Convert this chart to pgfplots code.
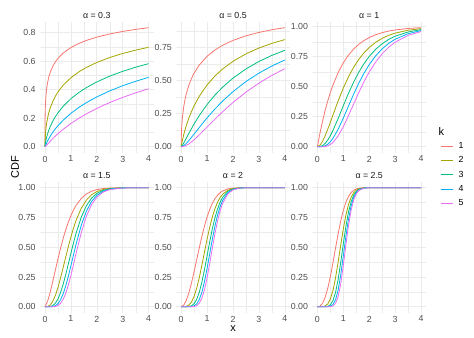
\documentclass[border=0pt]{standalone}
\usepackage{pgfplots}
\pgfplotsset{compat=1.18}
\usepackage{pgfplotstable}
\usepackage{fontspec}
\setmainfont{Liberation Sans}
\definecolor{c1}{HTML}{F8766D}
\definecolor{c2}{HTML}{A3A500}
\definecolor{c3}{HTML}{00BF7D}
\definecolor{c4}{HTML}{00B0F6}
\definecolor{c5}{HTML}{E76BF3}
\definecolor{gridc}{HTML}{EBEBEB}
\definecolor{tickc}{HTML}{4D4D4D}
\definecolor{stripc}{HTML}{1A1A1A}

% alpha = 0.3
\pgfplotstableread{
x k1 k2 k3 k4 k5
0 0 0 0 0 0
0.0005 0.1146 0.01313 0.001505 0.000172 0.00002
0.002 0.1683 0.02832 0.004767 0.000802 0.000135
0.005 0.2156 0.04648 0.01002 0.00216 0.000466
0.01 0.2584 0.06677 0.01725 0.004458 0.001152
0.02 0.3078 0.09474 0.02916 0.008976 0.002763
0.04 0.3643 0.1327 0.04835 0.01761 0.006417
0.07 0.4148 0.1721 0.07137 0.0296 0.01228
0.1 0.4492 0.2018 0.09064 0.04072 0.01829
0.15 0.4901 0.2402 0.1177 0.0577 0.02828
0.2 0.5201 0.2705 0.1407 0.07317 0.03806
0.3 0.5636 0.3176 0.179 0.1009 0.05687
0.4 0.595 0.354 0.2106 0.1253 0.07459
0.5 0.6196 0.3839 0.2379 0.1474 0.09131
0.7 0.6567 0.4313 0.2832 0.186 0.1221
1 0.6958 0.4841 0.3369 0.2344 0.1631
1.3 0.724 0.5242 0.3795 0.2748 0.1989
1.6 0.7459 0.5564 0.415 0.3095 0.2309
2 0.7689 0.5912 0.4546 0.3495 0.2688
2.5 0.7912 0.626 0.4953 0.3919 0.3101
3 0.8088 0.6542 0.5291 0.4279 0.3461
3.5 0.8232 0.6777 0.5578 0.4592 0.378
4 0.8353 0.6977 0.5828 0.4868 0.4067
}\tA

% alpha = 0.5
\pgfplotstableread{
x k1 k2 k3 k4 k5
0 0 0 0 0 0
0.001 0.03572 0.001276 0.0000456 0.0000016 0
0.005 0.0781 0.0061 0.000476 0.0000372 0.0000029
0.01 0.10863 0.0118 0.001282 0.000139 0.0000151
0.02 0.1501 0.02253 0.003382 0.000508 0.0000762
0.05 0.22673 0.05141 0.01166 0.002643 0.000599
0.1 0.30486 0.09294 0.02833 0.008638 0.002633
0.15 0.35942 0.12918 0.04643 0.01669 0.005998
0.2 0.4021 0.16168 0.06501 0.02614 0.01051
0.3 0.46733 0.2184 0.10206 0.0477 0.02229
0.4 0.5168 0.26708 0.13803 0.07133 0.03686
0.5 0.55656 0.30976 0.1724 0.09595 0.0534
0.7 0.61792 0.38182 0.23594 0.14579 0.09009
1 0.68336 0.46698 0.31912 0.21807 0.14902
1.3 0.73049 0.53362 0.38981 0.28475 0.20801
1.6 0.76653 0.58757 0.45039 0.34524 0.26464
2 0.80332 0.64532 0.5184 0.41644 0.33453
2.5 0.83769 0.70172 0.58782 0.49241 0.41249
3 0.86358 0.74577 0.64403 0.55617 0.4803
3.5 0.88373 0.78098 0.69018 0.60993 0.53902
4 0.89974 0.80953 0.72837 0.65534 0.58964
}\tB

% alpha = 1
\pgfplotstableread{
x k1 k2 k3 k4 k5
0 0 0 0 0 0
0.1 0.11308 0.012787 0.001446 0.0001635 0.0000185
0.2 0.21337 0.04553 0.009714 0.002073 0.000442
0.3 0.30232 0.0914 0.02763 0.008353 0.002525
0.4 0.38122 0.14533 0.0554 0.02112 0.008052
0.5 0.45119 0.20357 0.09185 0.04144 0.0187
0.6 0.51325 0.26343 0.1352 0.06939 0.03562
0.8 0.61711 0.38082 0.23501 0.14503 0.0895
1.0 0.69881 0.48834 0.34126 0.23847 0.16665
1.2 0.76307 0.58228 0.44432 0.33905 0.25872
1.4 0.81363 0.66199 0.53862 0.43824 0.35657
1.6 0.85339 0.72827 0.6215 0.53038 0.45262
1.8 0.88467 0.78264 0.69238 0.61253 0.54189
2.0 0.90928 0.82679 0.75178 0.68358 0.62157
2.25 0.93279 0.8701 0.81162 0.75707 0.70619
2.5 0.95021 0.9029 0.85795 0.81523 0.77465
2.75 0.96312 0.9276 0.89339 0.86044 0.82871
3.0 0.97268 0.94611 0.92026 0.89512 0.87066
3.5 0.985 0.97023 0.95567 0.94134 0.92722
4.0 0.99177 0.98361 0.97551 0.96749 0.95953
}\tC

% alpha = 1.5
\pgfplotstableread{
x k1 k2 k3 k4 k5
0 0 0 0 0 0
0.1 0.0448 0.00201 0.0000899 0.000004 0.0000002
0.2 0.1216 0.01479 0.001798 0.000219 0.0000266
0.3 0.212 0.04494 0.009528 0.00202 0.000428
0.4 0.307 0.09425 0.02894 0.008883 0.002727
0.5 0.4011 0.16088 0.06453 0.02588 0.01038
0.6 0.4903 0.24039 0.11786 0.05779 0.02833
0.7 0.5722 0.32741 0.18735 0.1072 0.06134
0.8 0.6457 0.41693 0.26921 0.17383 0.11224
0.9 0.71 0.5041 0.35791 0.25412 0.18042
1.0 0.7654 0.58584 0.4484 0.34321 0.26269
1.1 0.8123 0.65983 0.53598 0.43538 0.35366
1.2 0.8513 0.72471 0.61695 0.52521 0.44711
1.4 0.9095 0.82719 0.75233 0.68424 0.62232
1.6 0.9468 0.89643 0.84874 0.80359 0.76084
1.8 0.9699 0.94071 0.91239 0.88493 0.85829
2.0 0.9834 0.96708 0.95103 0.93524 0.91972
2.25 0.9925 0.98506 0.97767 0.97034 0.96306
2.5 0.9968 0.99361 0.99043 0.98726 0.9841
3.0 0.9995 0.999 0.9985 0.998 0.9975
3.5 0.99993 0.99986 0.99979 0.99972 0.99965
4.0 1 1 1 1 1
}\tD

% alpha = 2
\pgfplotstableread{
x k1 k2 k3 k4 k5
0 0 0 0 0 0
0.1 0.0139 0.000193 0.0000027 0 0
0.2 0.0545 0.00297 0.000162 0.0000088 0.0000005
0.3 0.1184 0.01402 0.00166 0.000197 0.0000233
0.4 0.2007 0.04028 0.008084 0.001622 0.000326
0.5 0.2953 0.0872 0.02575 0.007604 0.002246
0.6 0.3959 0.15674 0.06205 0.02457 0.009726
0.7 0.4964 0.24641 0.12232 0.06072 0.03014
0.8 0.5918 0.35023 0.20727 0.12266 0.07259
0.9 0.6783 0.46009 0.31208 0.21168 0.14358
1.0 0.7534 0.56761 0.42764 0.32218 0.24273
1.1 0.8162 0.66618 0.54374 0.4438 0.36223
1.2 0.8668 0.75134 0.65126 0.56451 0.48932
1.3 0.9061 0.82102 0.74393 0.67408 0.61078
1.4 0.9357 0.87553 0.81923 0.76656 0.71727
1.5 0.9571 0.91604 0.87674 0.83913 0.80313
1.6 0.9722 0.94517 0.91889 0.89335 0.86851
1.8 0.9893 0.97871 0.96824 0.95788 0.94763
2.0 0.9963 0.99261 0.98894 0.98528 0.98164
2.25 0.9992 0.9984 0.9976 0.9968 0.996
2.5 0.9998 0.9996 0.9994 0.9992 0.999
3.0 1 1 1 1 1
4.0 1 1 1 1 1
}\tE

% alpha = 2.5
\pgfplotstableread{
x k1 k2 k3 k4 k5
0 0 0 0 0 0
0.1 0.0052 0.000027 0 0 0
0.2 0.0291 0.000847 0.0000246 0 0
0.3 0.0781 0.0061 0.000476 0.0000372 0.0000029
0.4 0.1538 0.02365 0.003638 0.00056 0.0000861
0.5 0.253 0.06401 0.01619 0.004097 0.001037
0.6 0.3688 0.13601 0.05016 0.0185 0.006823
0.7 0.4916 0.24167 0.11881 0.05841 0.02871
0.8 0.6111 0.37344 0.22821 0.13946 0.08522
0.9 0.7186 0.51639 0.37108 0.26666 0.19162
1.0 0.808 0.65286 0.52751 0.42623 0.34439
1.1 0.8768 0.76878 0.67406 0.59102 0.51821
1.2 0.9259 0.85729 0.79377 0.73495 0.68049
1.3 0.9584 0.91853 0.88032 0.8437 0.8086
1.4 0.9782 0.95688 0.93602 0.91561 0.89565
1.5 0.9894 0.97891 0.96853 0.95827 0.94811
1.6 0.9952 0.99042 0.98567 0.98094 0.97623
1.8 0.9992 0.9984 0.9976 0.9968 0.996
2.0 0.9999 0.9998 0.9997 0.9996 0.9995
2.5 1 1 1 1 1
3.0 1 1 1 1 1
4.0 1 1 1 1 1
}\tF

\pgfplotsset{
  panel/.style={
    scale only axis, width=114bp, height=131bp,
    anchor=south west,
    xmin=-0.2, xmax=4.2,
    xtick={0,1,2,3,4}, minor xtick={0.5,1.5,2.5,3.5},
    grid=both,
    major grid style={color=gridc, line width=0.6bp},
    minor grid style={color=gridc, line width=0.3bp},
    axis line style={draw=none},
    major tick length=0pt, minor tick length=0pt,
    tick label style={font=\fontsize{8.8bp}{10bp}\selectfont, text=tickc},
    /pgf/number format/assume math mode=true,
    yticklabel style={inner sep=0pt, xshift=-4bp, /pgf/number format/.cd, fixed, fixed zerofill, precision=2},
    xticklabel style={inner sep=0pt, yshift=-3bp},
    every axis plot/.append style={line width=0.8bp, no marks},
  },
  fullrow/.style={ymin=-0.05, ymax=1.05, ytick={0,0.25,0.5,0.75,1}, minor ytick={0.125,0.375,0.625,0.875}},
}

\begin{document}
\begin{tikzpicture}
\path[use as bounding box] (0,0) rectangle (474bp,338bp);

% row 1
\begin{axis}[panel, at={(39.8bp,185.3bp)},
  ymin=-0.0418, ymax=0.8771, ytick={0,0.2,0.4,0.6,0.8}, minor ytick={0.1,0.3,0.5,0.7},
  yticklabel style={/pgf/number format/precision=1}]
\addplot[c1] table[x=x,y=k1]{\tA};
\addplot[c2] table[x=x,y=k2]{\tA};
\addplot[c3] table[x=x,y=k3]{\tA};
\addplot[c4] table[x=x,y=k4]{\tA};
\addplot[c5] table[x=x,y=k5]{\tA};
\end{axis}

\begin{axis}[panel, at={(176bp,185.3bp)},
  ymin=-0.045, ymax=0.9447, ytick={0,0.25,0.5,0.75}, minor ytick={0.125,0.375,0.625,0.875}]
\addplot[c1] table[x=x,y=k1]{\tB};
\addplot[c2] table[x=x,y=k2]{\tB};
\addplot[c3] table[x=x,y=k3]{\tB};
\addplot[c4] table[x=x,y=k4]{\tB};
\addplot[c5] table[x=x,y=k5]{\tB};
\end{axis}

\begin{axis}[panel, at={(312.2bp,185.3bp)},
  ymin=-0.0496, ymax=1.0414, ytick={0,0.25,0.5,0.75,1}, minor ytick={0.125,0.375,0.625,0.875},
  legend style={at={(1.125,0.105)}, anchor=north west, draw=none, fill=none,
    font=\fontsize{8.8bp}{10bp}\selectfont, text=black,
    inner sep=0pt, row sep=0pt,
    nodes={inner sep=0pt, minimum height=14.3bp},
    /tikz/every odd column/.append style={column sep=5.5bp}},
  legend cell align=left,
  legend image code/.code={\draw[#1, line width=1bp] (0bp,0bp) -- (11.5bp,0bp);}]
\addplot[c1] table[x=x,y=k1]{\tC};
\addplot[c2] table[x=x,y=k2]{\tC};
\addplot[c3] table[x=x,y=k3]{\tC};
\addplot[c4] table[x=x,y=k4]{\tC};
\addplot[c5] table[x=x,y=k5]{\tC};
\legend{1,2,3,4,5}
\end{axis}

% row 2
\begin{axis}[panel, fullrow, at={(39.8bp,25.3bp)}]
\addplot[c1] table[x=x,y=k1]{\tD};
\addplot[c2] table[x=x,y=k2]{\tD};
\addplot[c3] table[x=x,y=k3]{\tD};
\addplot[c4] table[x=x,y=k4]{\tD};
\addplot[c5] table[x=x,y=k5]{\tD};
\end{axis}

\begin{axis}[panel, fullrow, at={(176bp,25.3bp)}]
\addplot[c1] table[x=x,y=k1]{\tE};
\addplot[c2] table[x=x,y=k2]{\tE};
\addplot[c3] table[x=x,y=k3]{\tE};
\addplot[c4] table[x=x,y=k4]{\tE};
\addplot[c5] table[x=x,y=k5]{\tE};
\end{axis}

\begin{axis}[panel, fullrow, at={(312.2bp,25.3bp)}]
\addplot[c1] table[x=x,y=k1]{\tF};
\addplot[c2] table[x=x,y=k2]{\tF};
\addplot[c3] table[x=x,y=k3]{\tF};
\addplot[c4] table[x=x,y=k4]{\tF};
\addplot[c5] table[x=x,y=k5]{\tF};
\end{axis}

% strip titles
\begin{scope}[every node/.style={anchor=center, inner sep=0pt, text=stripc, font=\fontsize{8.8bp}{10bp}\selectfont}]
\node at (96.8bp,322.3bp) {α = 0.3};
\node at (233bp,322.3bp) {α = 0.5};
\node at (369.2bp,322.3bp) {α = 1};
\node at (96.8bp,162.3bp) {α = 1.5};
\node at (233bp,162.3bp) {α = 2};
\node at (369.2bp,162.3bp) {α = 2.5};
\end{scope}

\node[anchor=center, font=\fontsize{11bp}{12bp}\selectfont] at (233bp,9bp) {x};
\node[anchor=center, rotate=90, font=\fontsize{11bp}{12bp}\selectfont] at (15bp,171bp) {CDF};
\node[anchor=west, inner sep=0pt, font=\fontsize{11bp}{12bp}\selectfont] at (438.5bp,206.3bp) {k};
\end{tikzpicture}
\end{document}
